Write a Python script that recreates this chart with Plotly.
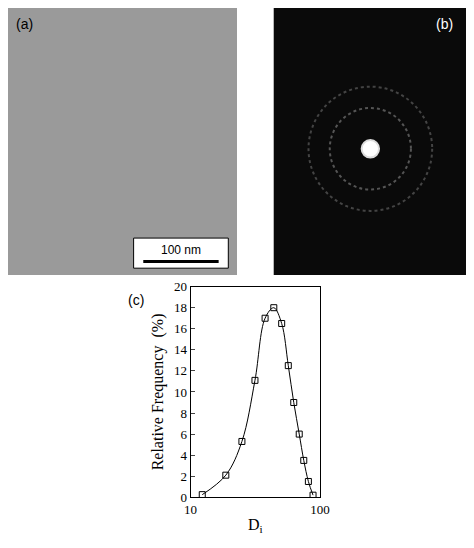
import plotly.graph_objects as go

# grain size distribution, panel (c)
diam = [12.3, 18.7, 24.9, 31.4, 37.6, 43.9, 50.5, 56.8, 62.6, 69.0, 74.8, 81.2, 88.2]
freq = [0.25, 2.1, 5.3, 11.1, 17.0, 18.0, 16.5, 12.5, 9.0, 6.0, 3.5, 1.5, 0.2]

W, H = 474, 548  # reference coordinates
def px(x): return x / W
def py(y): return 1 - y / H

fig = go.Figure()
fig.add_trace(go.Scatter(x=diam, y=freq, mode='lines+markers',
                         line=dict(color='black', width=1, shape='spline', smoothing=1.0),
                         marker=dict(symbol='square-open', size=6, color='black', line=dict(width=1)),
                         showlegend=False))

font = dict(family='Liberation Serif', size=13, color='black')
fig.update_layout(
    width=W - 16, height=H - 16, margin=dict(l=0, r=0, t=0, b=0, autoexpand=False),
    paper_bgcolor='white', plot_bgcolor='white',
    font=font,
    xaxis=dict(type='log', range=[1, 2], domain=[px(189), px(323)], automargin=False,
               tickvals=[10, 100], ticktext=['10', '100'], showgrid=False,
               showline=True, linecolor='black', mirror=True, ticks='inside', ticklen=4,
               title=dict(text='D<sub>i</sub>', standoff=2)),
    yaxis=dict(range=[0, 20], domain=[py(504), py(287)], dtick=2, showgrid=False, automargin=False,
               showline=True, linecolor='black', mirror=True, ticks='inside', ticklen=4,
               title=dict(text='Relative Frequency  (%)', standoff=6)),
    shapes=[
        # panel (a) micrograph placeholder
        dict(type='rect', xref='paper', yref='paper', x0=px(0), x1=px(237), y0=py(275), y1=py(0),
             fillcolor='#9a9a9a', line=dict(width=0), layer='below'),
        dict(type='rect', xref='paper', yref='paper', x0=px(130), x1=px(228), y0=py(268), y1=py(237),
             fillcolor='white', line=dict(color='black', width=1)),
        dict(type='line', xref='paper', yref='paper', x0=px(140), x1=px(218), y0=py(261), y1=py(261),
             line=dict(color='black', width=3)),
        # panel (b) diffraction pattern placeholder
        dict(type='rect', xref='paper', yref='paper', x0=px(275), x1=px(474), y0=py(275), y1=py(0),
             fillcolor='#0a0a0a', line=dict(width=0), layer='below'),
        dict(type='circle', xref='paper', yref='paper', x0=px(333), x1=px(417), y0=py(187), y1=py(103),
             line=dict(color='#555555', width=2, dash='dot')),
        dict(type='circle', xref='paper', yref='paper', x0=px(311), x1=px(439), y0=py(209), y1=py(81),
             line=dict(color='#444444', width=2, dash='dot')),
        dict(type='circle', xref='paper', yref='paper', x0=px(366), x1=px(384), y0=py(154), y1=py(136),
             fillcolor='white', line=dict(color='#dddddd', width=2)),
    ],
    annotations=[
        dict(text='(a)', x=px(6), y=py(6), xref='paper', yref='paper', xanchor='left', yanchor='top',
             showarrow=False, font=dict(family='Liberation Sans', size=14, color='black')),
        dict(text='(b)', x=px(441), y=py(6), xref='paper', yref='paper', xanchor='left', yanchor='top',
             showarrow=False, font=dict(family='Liberation Sans', size=14, color='white')),
        dict(text='100 nm', x=px(179), y=py(240), xref='paper', yref='paper', xanchor='center', yanchor='top',
             showarrow=False, font=dict(family='Liberation Sans', size=12, color='black')),
        dict(text='(c)', x=px(122), y=py(290), xref='paper', yref='paper', xanchor='left', yanchor='top',
             showarrow=False, font=dict(family='Liberation Sans', size=14, color='black')),
    ],
)
fig.write_html('out.html')
